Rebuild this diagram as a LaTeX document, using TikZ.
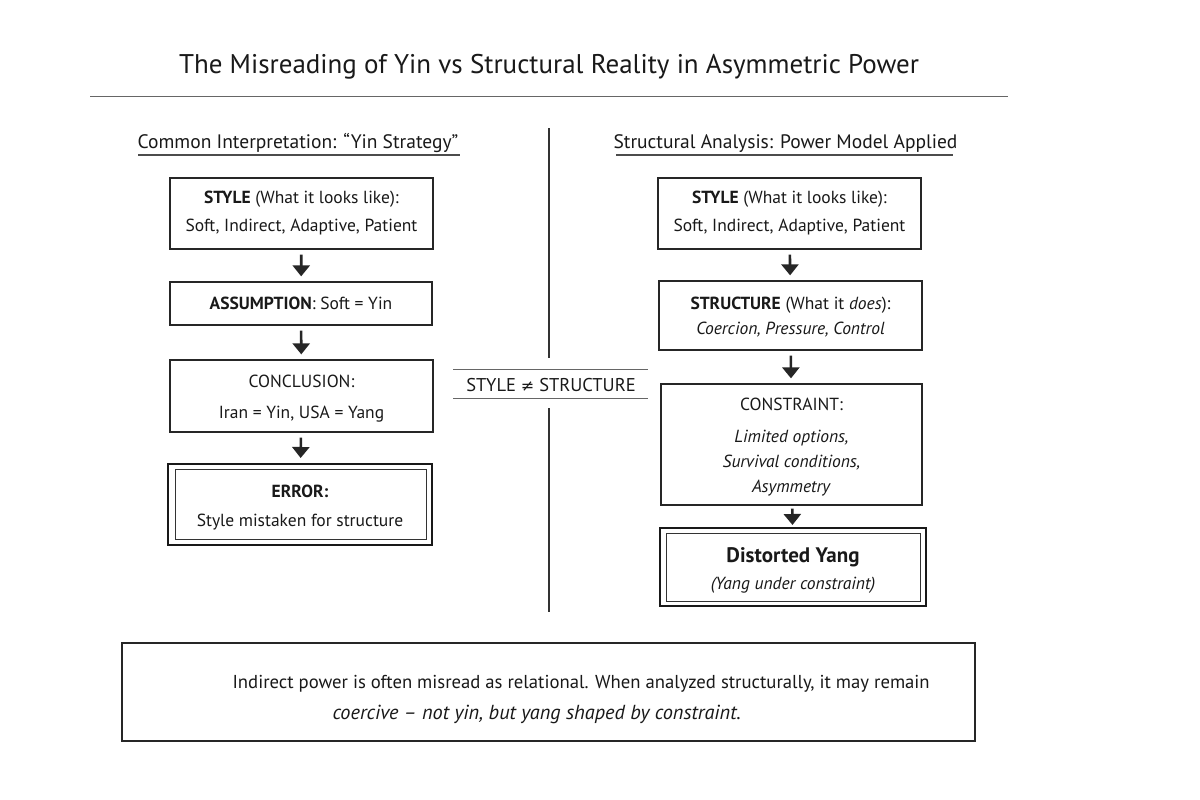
\documentclass[tikz,border=0pt]{standalone}
\usepackage{fontspec}
\setmainfont{PT Sans}
\newfontfamily\symfont{DejaVu Sans}
\usetikzlibrary{arrows.meta}
\newcommand\firstline[1]{\rule{0pt}{#1}}
\begin{document}
\begin{tikzpicture}[x=1pt,y=-1pt,
  txt/.style={font=\fontsize{17.5}{28}\selectfont, text=black!90},
  stepbox/.style={draw=black!85, line width=1.3pt, inner sep=0pt, align=center,
    minimum width=#1, txt},
  outerbox/.style={draw=black!90, line width=2pt, inner sep=0pt, align=center,
    minimum width=#1, txt},
  flow/.style={-{Triangle[length=11pt,width=17pt]}, line width=2.6pt, black!85,
    shorten <=5pt, shorten >=5pt},
  rulegray/.style={draw=black!60, line width=1pt},
  heading/.style={font=\fontsize{19.5}{24}\selectfont, text=black!90, anchor=base},
]
\useasboundingbox[fill=white] (0,0) rectangle (1200,800);

% title and top rule
\node[font=\fontsize{27}{32}\selectfont, anchor=base, text=black!90] (title) at (549,74)
  {The Misreading of Yin vs Structural Reality in Asymmetric Power};
\coordinate (ruleL) at (90,97);
\coordinate (ruleR) at (1008,97);
\draw[rulegray] (ruleL) -- (ruleR);

% column headings
\node[heading] (headL) at (298,148) {Common Interpretation: “Yin Strategy”};
\node[heading] (headR) at (785.5,148) {Structural Analysis: Power Model Applied};
\coordinate (ulL1) at (138,155); \coordinate (ulL2) at (460,155);
\coordinate (ulR1) at (616,155); \coordinate (ulR2) at (953,155);
\draw[draw=black!70, line width=1.4pt] (ulL1) -- (ulL2);
\draw[draw=black!70, line width=1.4pt] (ulR1) -- (ulR2);

% central divider
\coordinate (divA) at (549,128); \coordinate (divB) at (549,358);
\coordinate (divC) at (549,408); \coordinate (divD) at (549,612);
\draw[draw=black!80, line width=1.3pt] (divA) -- (divB);
\draw[draw=black!80, line width=1.3pt] (divC) -- (divD);
\node[heading, font=\fontsize{18.5}{24}\selectfont] (neq) at (551,391)
  {STYLE {\symfont\fontsize{16}{24}\selectfont ≠} STRUCTURE};
\coordinate (nqA1) at (453,369); \coordinate (nqA2) at (648,369);
\coordinate (nqB1) at (453,398); \coordinate (nqB2) at (648,398);
\draw[rulegray] (nqA1) -- (nqA2);
\draw[rulegray] (nqB1) -- (nqB2);

% left column
\node[stepbox=263pt, minimum height=71pt] (l1) at (301.5,213.5)
  {\textbf{STYLE} (What it looks like):\\Soft, Indirect, Adaptive, Patient};
\node[stepbox=262pt, minimum height=43pt] (l2) at (301,303.5)
  {\textbf{ASSUMPTION}: Soft = Yin};
\node[stepbox=263pt, minimum height=72pt] (l3) at (301.5,396)
  {\firstline{17pt}CONCLUSION:\\[3pt]Iran = Yin, USA = Yang};
\node[outerbox=264pt, minimum height=81pt] (l4) at (300,504.5)
  {\firstline{19pt}\textbf{ERROR:}\\[1pt]Style mistaken for structure};
\draw[draw=black!80, line width=1pt]
  ([shift={(8,6)}]l4.north west) rectangle ([shift={(-7,-7)}]l4.south east);

\draw[flow] (l1) -- (l2);
\draw[flow] (l2) -- (l3);
\draw[flow] (l3) -- (l4);

% right column
\node[stepbox=263pt, minimum height=71pt] (r1) at (789.5,213.5)
  {\textbf{STYLE} (What it looks like):\\Soft, Indirect, Adaptive, Patient};
\node[stepbox=263pt, minimum height=69pt, font=\fontsize{17.5}{25}\selectfont] (r2) at (790.5,315.5)
  {\firstline{16.5pt}\textbf{STRUCTURE} (What it \textit{does}):\\\textit{Coercion, Pressure, Control}};
\node[stepbox=261pt, minimum height=121pt, font=\fontsize{17.5}{25}\selectfont] (r3) at (791.5,444.5)
  {\firstline{18.5pt}CONSTRAINT:\\[7pt]\textit{Limited options,}\\\textit{Survival conditions,}\\\textit{Asymmetry}};
\node[outerbox=266pt, minimum height=78pt] (r4) at (793,567)
  {\firstline{21pt}{\fontsize{21}{27}\selectfont\textbf{Distorted Yang}}\\[-1pt]\textit{(Yang under constraint)}};
\draw[draw=black!80, line width=1pt]
  ([shift={(7,6)}]r4.north west) rectangle ([shift={(-7,-6)}]r4.south east);

\draw[flow] (r1) -- (r2);
\draw[flow] (r2) -- (r3);
\draw[flow, shorten <=3pt, shorten >=2pt] (r3) -- (r4);

% summary box
\coordinate (noteNW) at (122,643);
\coordinate (noteSE) at (975,741);
\draw[draw=black!85, line width=1.4pt] (noteNW) rectangle (noteSE);
\node[txt, font=\fontsize{18.7}{24}\selectfont, anchor=base west] (note1) at (229,688)
  {Indirect power is often misread as relational. When analyzed structurally, it may remain};
\node[txt, font=\fontsize{20.3}{24}\selectfont, anchor=base west] (note2) at (329,719)
  {\textit{coercive – not yin, but yang shaped by constraint.}};
\end{tikzpicture}
\end{document}
